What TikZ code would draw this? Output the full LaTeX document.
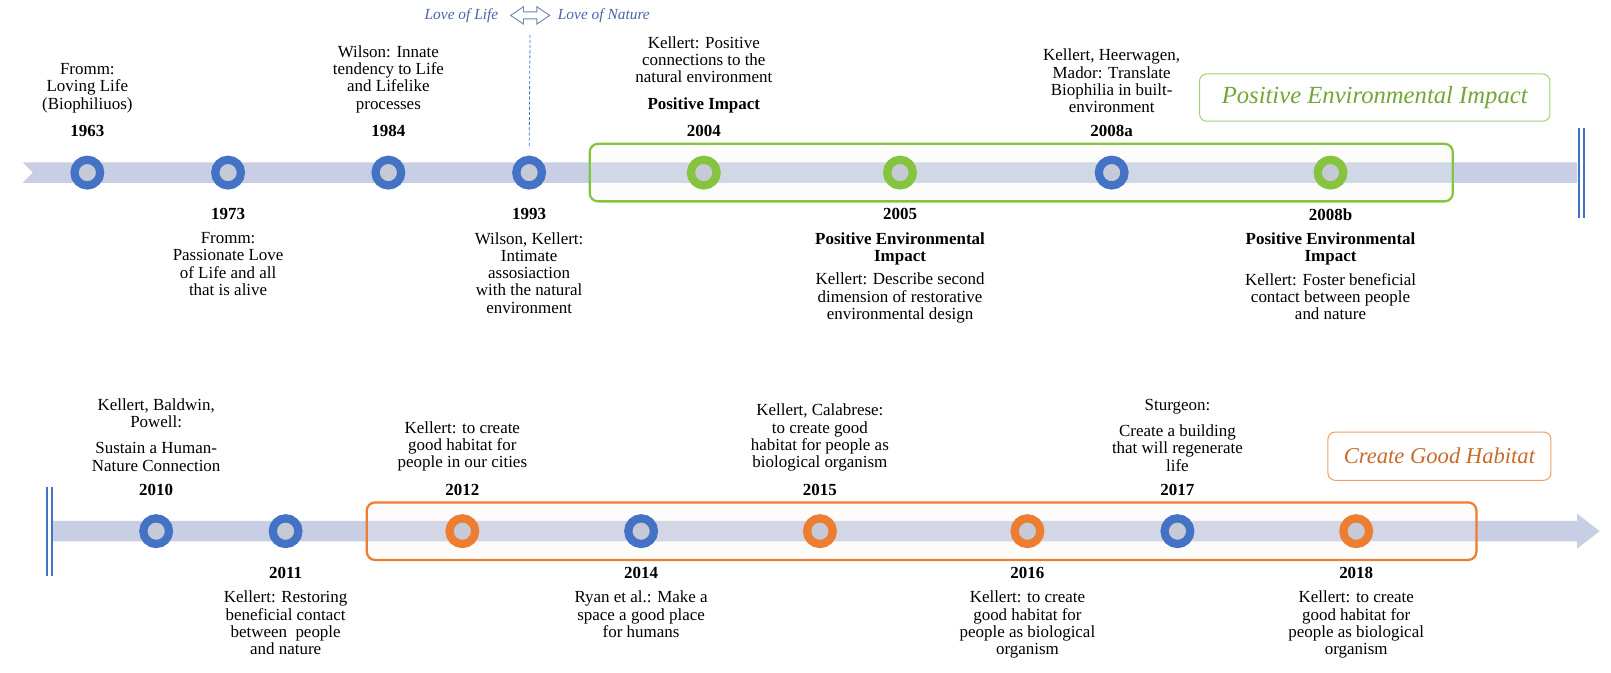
\documentclass[tikz,border=0pt]{standalone}
\usepackage{fontspec}
\setmainfont{Liberation Serif}
\usetikzlibrary{positioning,shapes.arrows}
\definecolor{barc}{RGB}{200,207,228}
\definecolor{midc}{RGB}{198,202,214}
\definecolor{blu}{RGB}{68,114,196}
\definecolor{grn}{RGB}{134,196,64}
\definecolor{org}{RGB}{237,125,49}
\definecolor{lov}{RGB}{72,102,168}

\begin{document}
\begin{tikzpicture}[x=1pt,y=-1pt,node distance=12pt,
ring/.style={circle,draw=#1,line width=8pt,fill=midc,minimum size=25pt,inner sep=0pt},
yr/.style={font=\fontsize{16.5}{16.8}\selectfont\bfseries,inner sep=0pt},
txt/.style={align=center,font=\fontsize{16.5}{16.8}\selectfont,inner sep=0pt},
zone/.style={draw=#1,line width=2.2pt,rounded corners=8pt,fill=#1!10,fill opacity=0.2},
tag/.style={draw=#1!75,line width=1pt,rounded corners=7pt,text=#1!85!black,font=\fontsize{22}{24}\selectfont\itshape},
lt/.style={text=lov,font=\fontsize{15}{16}\selectfont\itshape,inner sep=0pt}]
\useasboundingbox (0,0) rectangle (1568,655);
\fill[white] (0,0) rectangle (1568,655);

\fill[barc] (22,158) -- (1535,158) -- (1535,178) -- (22,178) -- (32,168) -- cycle;
\draw[blu,line width=1.8pt] (1537,125) -- (1537,212) (1542,125) -- (1542,212);
\draw[zone=grn] (574,140) rectangle (1414,196);
\node[tag=grn,minimum width=341pt,minimum height=46pt,font=\fontsize{24}{26}\selectfont\itshape] (t1) at (1338,95) {Positive Environmental Impact};

\node[double arrow,draw=lov!80,line width=0.9pt,fill=white,minimum height=38pt,inner xsep=0pt,inner ysep=3pt,double arrow head extend=5pt,double arrow tip angle=68] (lr) at (516,15) {};
\node[lt,left=11pt of lr] (ll) {Love of Life};
\node[lt,right=7pt of lr] (ln) {Love of Nature};

\node[ring=blu] (c1963) at (85,168) {};
\node[ring=blu] (c1973) at (222,168) {};
\node[ring=blu] (c1984) at (378,168) {};
\node[ring=blu] (c1993) at (515,168) {};
\node[ring=grn] (c2004) at (685,168) {};
\node[ring=grn] (c2005) at (876,168) {};
\node[ring=blu] (c2008a) at (1082,168) {};
\node[ring=grn] (c2008b) at (1295,168) {};

\draw[blu,line width=0.8pt,dash pattern=on 3pt off 2pt,shorten <=15pt,shorten >=7pt] (lr.south) -- (c1993.north);

\node[yr,above=18pt of c1963] (y1963) {1963};
\node[txt,above=of y1963] (d1963) {Fromm:\\Loving Life\\(Biophiliuos)};
\node[yr,below=18pt of c1973] (y1973) {1973};
\node[txt,below=of y1973] (d1973) {Fromm:\\Passionate Love\\of Life and all\\that is alive};
\node[yr,above=18pt of c1984] (y1984) {1984};
\node[txt,above=of y1984] (d1984) {Wilson: Innate\\tendency to Life\\and Lifelike\\processes};
\node[yr,below=18pt of c1993] (y1993) {1993};
\node[txt,below=of y1993] (d1993) {Wilson, Kellert:\\Intimate\\assosiaction\\with the natural\\environment};
\node[yr,above=18pt of c2004] (y2004) {2004};
\node[txt,above=of y2004] (d2004) {Kellert: Positive\\connections to the\\natural environment\\[9pt]\textbf{Positive Impact}};
\node[yr,below=18pt of c2005] (y2005) {2005};
\node[txt,below=of y2005] (d2005) {\textbf{Positive Environmental}\\\textbf{Impact}\\[6pt]Kellert: Describe second\\dimension of restorative\\environmental design};
\node[yr,above=18pt of c2008a] (y2008a) {2008a};
\node[txt,above=of y2008a] (d2008a) {Kellert, Heerwagen,\\Mador: Translate\\Biophilia in built-\\environment};
\node[yr,below=18pt of c2008b] (y2008b) {2008b};
\node[txt,below=of y2008b] (d2008b) {\textbf{Positive Environmental}\\\textbf{Impact}\\[6pt]Kellert: Foster beneficial\\contact between people\\and nature};

\fill[barc] (51,507) -- (1535,507) -- (1535,500) -- (1557,517) -- (1535,534) -- (1535,527) -- (51,527) -- cycle;
\draw[blu,line width=1.8pt] (46,474) -- (46,561) (51,474) -- (51,561);
\draw[zone=org] (357,489) rectangle (1437,545);
\node[tag=org,minimum width=217pt,minimum height=47pt] (t2) at (1401,444) {Create Good Habitat};

\node[ring=blu] (c2010) at (152,517) {};
\node[ring=blu] (c2011) at (278,517) {};
\node[ring=org] (c2012) at (450,517) {};
\node[ring=blu] (c2014) at (624,517) {};
\node[ring=org] (c2015) at (798,517) {};
\node[ring=org] (c2016) at (1000,517) {};
\node[ring=blu] (c2017) at (1146,517) {};
\node[ring=org] (c2018) at (1320,517) {};

\node[yr,above=18pt of c2010] (y2010) {2010};
\node[txt,above=of y2010] (d2010) {Kellert, Baldwin,\\Powell:\\[9pt]Sustain a Human-\\Nature Connection};
\node[yr,below=18pt of c2011] (y2011) {2011};
\node[txt,below=of y2011] (d2011) {Kellert: Restoring\\beneficial contact\\between\ \ people\\and nature};
\node[yr,above=18pt of c2012] (y2012) {2012};
\node[txt,above=of y2012] (d2012) {Kellert: to create\\good habitat for\\people in our cities};
\node[yr,below=18pt of c2014] (y2014) {2014};
\node[txt,below=of y2014] (d2014) {Ryan et al.: Make a\\space a good place\\for humans};
\node[yr,above=18pt of c2015] (y2015) {2015};
\node[txt,above=of y2015] (d2015) {Kellert, Calabrese:\\to create good\\habitat for people as\\biological organism};
\node[yr,below=18pt of c2016] (y2016) {2016};
\node[txt,below=of y2016] (d2016) {Kellert: to create\\good habitat for\\people as biological\\organism};
\node[yr,above=18pt of c2017] (y2017) {2017};
\node[txt,above=of y2017] (d2017) {Sturgeon:\\[9pt]Create a building\\that will regenerate\\life};
\node[yr,below=18pt of c2018] (y2018) {2018};
\node[txt,below=of y2018] (d2018) {Kellert: to create\\good habitat for\\people as biological\\organism};
\end{tikzpicture}
\end{document}
